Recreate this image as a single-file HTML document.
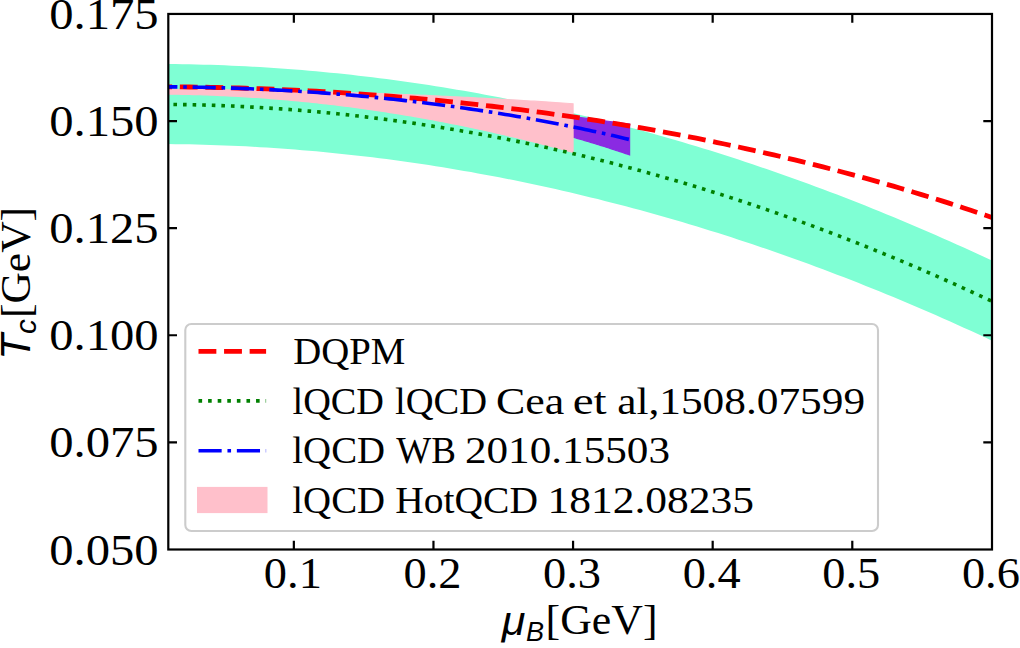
<!DOCTYPE html>
<html><head><meta charset="utf-8"><style>
html,body{margin:0;padding:0;background:#fff;}
body{width:1020px;height:648px;overflow:hidden;}
svg{display:block;}
text{font-family:"Liberation Serif",serif;fill:#000;}
</style></head><body>
<svg width="1020" height="648" viewBox="0 0 1020 648">
<defs><clipPath id="ax"><rect x="168.3" y="13.95" width="823.7" height="535.55"/></clipPath></defs>
<rect x="0" y="0" width="1020" height="648" fill="#fff"/>
<g clip-path="url(#ax)">
<path d="M154.24,63.96 L161.28,63.97 L168.32,64.02 L175.36,64.08 L182.40,64.18 L189.43,64.31 L196.47,64.46 L203.51,64.64 L210.55,64.85 L217.59,65.08 L224.63,65.35 L231.67,65.64 L238.71,65.96 L245.75,66.31 L252.79,66.68 L259.83,67.08 L266.87,67.51 L273.90,67.97 L280.94,68.46 L287.98,68.97 L295.02,69.51 L302.06,70.08 L309.10,70.68 L316.14,71.30 L323.18,71.96 L330.22,72.64 L337.26,73.35 L344.30,74.08 L351.34,74.85 L358.37,75.64 L365.41,76.46 L372.45,77.30 L379.49,78.18 L386.53,79.08 L393.57,80.01 L400.61,80.97 L407.65,81.95 L414.69,82.97 L421.73,84.01 L428.77,85.08 L435.81,86.18 L442.84,87.30 L449.88,88.45 L456.92,89.63 L463.96,90.84 L471.00,92.08 L478.04,93.34 L485.08,94.63 L492.12,95.95 L499.16,97.30 L506.20,98.67 L513.24,100.07 L520.28,101.50 L527.31,102.96 L534.35,104.45 L541.39,105.96 L548.43,107.50 L555.47,109.07 L562.51,110.67 L569.55,112.29 L576.59,113.95 L583.63,115.63 L590.67,117.33 L597.71,119.07 L604.75,120.83 L611.78,122.62 L618.82,124.44 L625.86,126.29 L632.90,128.16 L639.94,130.07 L646.98,132.00 L654.02,133.95 L661.06,135.94 L668.10,137.95 L675.14,139.99 L682.18,142.06 L689.22,144.16 L696.25,146.28 L703.29,148.44 L710.33,150.62 L717.37,152.82 L724.41,155.06 L731.45,157.32 L738.49,159.61 L745.53,161.93 L752.57,164.28 L759.61,166.65 L766.65,169.05 L773.69,171.48 L780.72,173.94 L787.76,176.43 L794.80,178.94 L801.84,181.48 L808.88,184.05 L815.92,186.65 L822.96,189.27 L830.00,191.92 L837.04,194.60 L844.08,197.31 L851.12,200.05 L858.15,202.81 L865.19,205.60 L872.23,208.42 L879.27,211.26 L886.31,214.14 L893.35,217.04 L900.39,219.97 L907.43,222.93 L914.47,225.91 L921.51,228.93 L928.55,231.97 L935.59,235.04 L942.62,238.13 L949.66,241.26 L956.70,244.41 L963.74,247.59 L970.78,250.80 L977.82,254.03 L984.86,257.29 L991.90,260.58 L991.90,340.63 L984.86,337.34 L977.82,334.07 L970.78,330.84 L963.74,327.63 L956.70,324.45 L949.66,321.30 L942.62,318.18 L935.59,315.08 L928.55,312.01 L921.51,308.97 L914.47,305.96 L907.43,302.97 L900.39,300.01 L893.35,297.08 L886.31,294.18 L879.27,291.31 L872.23,288.46 L865.19,285.64 L858.15,282.85 L851.12,280.09 L844.08,277.35 L837.04,274.65 L830.00,271.97 L822.96,269.31 L815.92,266.69 L808.88,264.09 L801.84,261.52 L794.80,258.98 L787.76,256.47 L780.72,253.99 L773.69,251.53 L766.65,249.10 L759.61,246.70 L752.57,244.32 L745.53,241.97 L738.49,239.66 L731.45,237.37 L724.41,235.10 L717.37,232.87 L710.33,230.66 L703.29,228.48 L696.25,226.33 L689.22,224.20 L682.18,222.11 L675.14,220.04 L668.10,218.00 L661.06,215.98 L654.02,214.00 L646.98,212.04 L639.94,210.11 L632.90,208.21 L625.86,206.33 L618.82,204.49 L611.78,202.67 L604.75,200.88 L597.71,199.11 L590.67,197.38 L583.63,195.67 L576.59,193.99 L569.55,192.34 L562.51,190.71 L555.47,189.12 L548.43,187.55 L541.39,186.00 L534.35,184.49 L527.31,183.01 L520.28,181.55 L513.24,180.12 L506.20,178.72 L499.16,177.34 L492.12,175.99 L485.08,174.67 L478.04,173.38 L471.00,172.12 L463.96,170.88 L456.92,169.68 L449.88,168.50 L442.84,167.34 L435.81,166.22 L428.77,165.12 L421.73,164.05 L414.69,163.01 L407.65,162.00 L400.61,161.01 L393.57,160.05 L386.53,159.12 L379.49,158.22 L372.45,157.35 L365.41,156.50 L358.37,155.68 L351.34,154.89 L344.30,154.13 L337.26,153.39 L330.22,152.68 L323.18,152.00 L316.14,151.35 L309.10,150.72 L302.06,150.13 L295.02,149.56 L287.98,149.02 L280.94,148.50 L273.90,148.02 L266.87,147.56 L259.83,147.13 L252.79,146.72 L245.75,146.35 L238.71,146.00 L231.67,145.68 L224.63,145.39 L217.59,145.13 L210.55,144.89 L203.51,144.68 L196.47,144.50 L189.43,144.35 L182.40,144.23 L175.36,144.13 L168.32,144.06 L161.28,144.02 L154.24,144.00 Z" fill="#7fffd4"/>
<path d="M573.07,116.66 L575.02,116.91 L576.97,117.16 L578.92,117.41 L580.87,117.66 L582.82,117.91 L584.77,118.16 L586.72,118.42 L588.67,118.67 L590.62,118.92 L592.57,119.18 L594.52,119.43 L596.47,119.69 L598.42,119.95 L600.37,120.20 L602.31,120.46 L604.26,120.72 L606.21,120.98 L608.16,121.24 L610.11,121.49 L612.06,121.75 L614.01,122.01 L615.96,122.28 L617.91,122.54 L619.86,122.80 L621.81,123.06 L623.76,123.32 L625.71,123.59 L627.66,123.85 L629.61,124.11 L629.61,154.97 L627.66,154.29 L625.71,153.62 L623.76,152.96 L621.81,152.30 L619.86,151.64 L617.91,150.99 L615.96,150.34 L614.01,149.70 L612.06,149.06 L610.11,148.43 L608.16,147.80 L606.21,147.17 L604.26,146.55 L602.31,145.94 L600.37,145.32 L598.42,144.72 L596.47,144.11 L594.52,143.52 L592.57,142.92 L590.62,142.33 L588.67,141.75 L586.72,141.16 L584.77,140.59 L582.82,140.01 L580.87,139.45 L578.92,138.88 L576.97,138.32 L575.02,137.76 L573.07,137.21 Z" fill="#8a2be2" stroke="#8a2be2" stroke-width="1.2"/>
<path d="M154.24,89.47 L157.76,89.47 L161.28,89.47 L164.80,89.48 L168.32,89.49 L171.84,89.50 L175.36,89.51 L178.88,89.52 L182.40,89.54 L185.92,89.55 L189.43,89.57 L192.95,89.59 L196.47,89.62 L199.99,89.64 L203.51,89.67 L207.03,89.70 L210.55,89.73 L214.07,89.76 L217.59,89.80 L221.11,89.83 L224.63,89.87 L228.15,89.91 L231.67,89.96 L235.19,90.00 L238.71,90.05 L242.23,90.10 L245.75,90.15 L249.27,90.20 L252.79,90.26 L256.31,90.32 L259.83,90.38 L263.35,90.44 L266.87,90.50 L270.39,90.57 L273.90,90.63 L277.42,90.70 L280.94,90.78 L284.46,90.85 L287.98,90.92 L291.50,91.00 L295.02,91.08 L298.54,91.16 L302.06,91.25 L305.58,91.33 L309.10,91.42 L312.62,91.51 L316.14,91.60 L319.66,91.69 L323.18,91.79 L326.70,91.89 L330.22,91.99 L333.74,92.09 L337.26,92.19 L340.78,92.30 L344.30,92.41 L347.82,92.52 L351.34,92.63 L354.86,92.74 L358.37,92.86 L361.89,92.97 L365.41,93.09 L368.93,93.22 L372.45,93.34 L375.97,93.47 L379.49,93.59 L383.01,93.72 L386.53,93.86 L390.05,93.99 L393.57,94.12 L397.09,94.26 L400.61,94.40 L404.13,94.54 L407.65,94.69 L411.17,94.83 L414.69,94.98 L418.21,95.13 L421.73,95.28 L425.25,95.44 L428.77,95.59 L432.29,95.75 L435.81,95.91 L439.32,96.07 L442.84,96.24 L446.36,96.40 L449.88,96.57 L453.40,96.74 L456.92,96.92 L460.44,97.09 L463.96,97.27 L467.48,97.44 L471.00,97.62 L474.52,97.81 L478.04,97.99 L481.56,98.18 L485.08,98.36 L488.60,98.55 L492.12,98.75 L495.64,98.94 L499.16,99.14 L502.68,99.34 L506.20,99.54 L509.72,99.74 L513.24,99.94 L516.76,100.15 L520.28,100.36 L523.79,100.57 L527.31,100.78 L530.83,100.99 L534.35,101.21 L537.87,101.43 L541.39,101.65 L544.91,101.87 L548.43,102.10 L551.95,102.32 L555.47,102.55 L558.99,102.78 L562.51,103.01 L566.03,103.25 L569.55,103.49 L573.07,103.72 L573.07,152.38 L569.55,151.40 L566.03,150.43 L562.51,149.47 L558.99,148.52 L555.47,147.58 L551.95,146.64 L548.43,145.72 L544.91,144.80 L541.39,143.89 L537.87,142.98 L534.35,142.09 L530.83,141.21 L527.31,140.33 L523.79,139.46 L520.28,138.60 L516.76,137.75 L513.24,136.90 L509.72,136.07 L506.20,135.24 L502.68,134.42 L499.16,133.61 L495.64,132.80 L492.12,132.01 L488.60,131.22 L485.08,130.44 L481.56,129.67 L478.04,128.91 L474.52,128.16 L471.00,127.41 L467.48,126.67 L463.96,125.95 L460.44,125.23 L456.92,124.51 L453.40,123.81 L449.88,123.11 L446.36,122.42 L442.84,121.74 L439.32,121.07 L435.81,120.41 L432.29,119.76 L428.77,119.11 L425.25,118.47 L421.73,117.84 L418.21,117.22 L414.69,116.60 L411.17,116.00 L407.65,115.40 L404.13,114.81 L400.61,114.23 L397.09,113.66 L393.57,113.10 L390.05,112.54 L386.53,111.99 L383.01,111.45 L379.49,110.92 L375.97,110.40 L372.45,109.88 L368.93,109.38 L365.41,108.88 L361.89,108.39 L358.37,107.91 L354.86,107.43 L351.34,106.97 L347.82,106.51 L344.30,106.06 L340.78,105.62 L337.26,105.19 L333.74,104.76 L330.22,104.35 L326.70,103.94 L323.18,103.54 L319.66,103.15 L316.14,102.77 L312.62,102.39 L309.10,102.02 L305.58,101.67 L302.06,101.32 L298.54,100.97 L295.02,100.64 L291.50,100.32 L287.98,100.00 L284.46,99.69 L280.94,99.39 L277.42,99.10 L273.90,98.81 L270.39,98.54 L266.87,98.27 L263.35,98.01 L259.83,97.76 L256.31,97.51 L252.79,97.28 L249.27,97.05 L245.75,96.83 L242.23,96.62 L238.71,96.42 L235.19,96.23 L231.67,96.04 L228.15,95.87 L224.63,95.70 L221.11,95.54 L217.59,95.39 L214.07,95.24 L210.55,95.11 L207.03,94.98 L203.51,94.86 L199.99,94.75 L196.47,94.64 L192.95,94.55 L189.43,94.46 L185.92,94.38 L182.40,94.31 L178.88,94.25 L175.36,94.20 L171.84,94.15 L168.32,94.12 L164.80,94.09 L161.28,94.07 L157.76,94.05 L154.24,94.05 Z" fill="#ffc0cb" stroke="#ffc0cb" stroke-width="1.2"/>
<path d="M154.24,86.82 L161.28,86.83 L168.32,86.85 L175.36,86.89 L182.40,86.95 L189.43,87.02 L196.47,87.11 L203.51,87.22 L210.55,87.35 L217.59,87.49 L224.63,87.65 L231.67,87.82 L238.71,88.01 L245.75,88.22 L252.79,88.44 L259.83,88.68 L266.87,88.94 L273.90,89.21 L280.94,89.51 L287.98,89.81 L295.02,90.14 L302.06,90.48 L309.10,90.84 L316.14,91.21 L323.18,91.61 L330.22,92.02 L337.26,92.44 L344.30,92.89 L351.34,93.35 L358.37,93.83 L365.41,94.32 L372.45,94.83 L379.49,95.36 L386.53,95.91 L393.57,96.47 L400.61,97.06 L407.65,97.66 L414.69,98.27 L421.73,98.91 L428.77,99.56 L435.81,100.23 L442.84,100.92 L449.88,101.63 L456.92,102.35 L463.96,103.09 L471.00,103.85 L478.04,104.63 L485.08,105.43 L492.12,106.24 L499.16,107.08 L506.20,107.93 L513.24,108.80 L520.28,109.69 L527.31,110.60 L534.35,111.52 L541.39,112.47 L548.43,113.43 L555.47,114.42 L562.51,115.42 L569.55,116.44 L576.59,117.48 L583.63,118.54 L590.67,119.62 L597.71,120.72 L604.75,121.84 L611.78,122.98 L618.82,124.14 L625.86,125.32 L632.90,126.52 L639.94,127.74 L646.98,128.98 L654.02,130.24 L661.06,131.52 L668.10,132.82 L675.14,134.15 L682.18,135.49 L689.22,136.85 L696.25,138.24 L703.29,139.65 L710.33,141.08 L717.37,142.53 L724.41,144.00 L731.45,145.49 L738.49,147.01 L745.53,148.55 L752.57,150.11 L759.61,151.69 L766.65,153.29 L773.69,154.92 L780.72,156.57 L787.76,158.24 L794.80,159.94 L801.84,161.66 L808.88,163.40 L815.92,165.17 L822.96,166.96 L830.00,168.77 L837.04,170.61 L844.08,172.47 L851.12,174.36 L858.15,176.27 L865.19,178.20 L872.23,180.16 L879.27,182.14 L886.31,184.15 L893.35,186.19 L900.39,188.25 L907.43,190.33 L914.47,192.44 L921.51,194.58 L928.55,196.75 L935.59,198.93 L942.62,201.15 L949.66,203.39 L956.70,205.66 L963.74,207.96 L970.78,210.28 L977.82,212.63 L984.86,215.01 L991.90,217.42" fill="none" stroke="#ff0000" stroke-width="4.824" stroke-dasharray="17.85 7.72"/>
<path d="M154.24,104.37 L161.28,104.38 L168.32,104.42 L175.36,104.49 L182.40,104.59 L189.43,104.71 L196.47,104.87 L203.51,105.05 L210.55,105.26 L217.59,105.49 L224.63,105.76 L231.67,106.05 L238.71,106.37 L245.75,106.72 L252.79,107.09 L259.83,107.50 L266.87,107.93 L273.90,108.39 L280.94,108.87 L287.98,109.39 L295.02,109.93 L302.06,110.50 L309.10,111.10 L316.14,111.72 L323.18,112.38 L330.22,113.06 L337.26,113.77 L344.30,114.50 L351.34,115.27 L358.37,116.06 L365.41,116.88 L372.45,117.73 L379.49,118.61 L386.53,119.51 L393.57,120.44 L400.61,121.40 L407.65,122.39 L414.69,123.40 L421.73,124.45 L428.77,125.52 L435.81,126.62 L442.84,127.74 L449.88,128.90 L456.92,130.08 L463.96,131.29 L471.00,132.53 L478.04,133.79 L485.08,135.09 L492.12,136.41 L499.16,137.76 L506.20,139.13 L513.24,140.54 L520.28,141.97 L527.31,143.43 L534.35,144.92 L541.39,146.43 L548.43,147.98 L555.47,149.55 L562.51,151.15 L569.55,152.78 L576.59,154.43 L583.63,156.11 L590.67,157.82 L597.71,159.56 L604.75,161.33 L611.78,163.12 L618.82,164.94 L625.86,166.79 L632.90,168.67 L639.94,170.58 L646.98,172.51 L654.02,174.47 L661.06,176.46 L668.10,178.48 L675.14,180.52 L682.18,182.59 L689.22,184.69 L696.25,186.82 L703.29,188.97 L710.33,191.16 L717.37,193.37 L724.41,195.61 L731.45,197.88 L738.49,200.17 L745.53,202.49 L752.57,204.84 L759.61,207.22 L766.65,209.63 L773.69,212.06 L780.72,214.52 L787.76,217.01 L794.80,219.53 L801.84,222.07 L808.88,224.65 L815.92,227.25 L822.96,229.87 L830.00,232.53 L837.04,235.21 L844.08,237.93 L851.12,240.67 L858.15,243.43 L865.19,246.23 L872.23,249.05 L879.27,251.90 L886.31,254.78 L893.35,257.69 L900.39,260.62 L907.43,263.58 L914.47,266.57 L921.51,269.59 L928.55,272.64 L935.59,275.71 L942.62,278.81 L949.66,281.94 L956.70,285.10 L963.74,288.28 L970.78,291.49 L977.82,294.74 L984.86,298.00 L991.90,301.30" fill="none" stroke="#008000" stroke-width="3.619" stroke-dasharray="3.619 5.971"/>
<path d="M154.24,86.82 L158.23,86.82 L162.22,86.83 L166.21,86.85 L170.19,86.87 L174.18,86.90 L178.17,86.94 L182.16,86.98 L186.15,87.03 L190.14,87.09 L194.13,87.16 L198.12,87.23 L202.11,87.30 L206.09,87.39 L210.08,87.48 L214.07,87.58 L218.06,87.68 L222.05,87.80 L226.04,87.92 L230.03,88.04 L234.02,88.17 L238.00,88.31 L241.99,88.46 L245.98,88.61 L249.97,88.77 L253.96,88.94 L257.95,89.11 L261.94,89.30 L265.93,89.48 L269.92,89.68 L273.90,89.88 L277.89,90.09 L281.88,90.31 L285.87,90.53 L289.86,90.76 L293.85,91.00 L297.84,91.24 L301.83,91.49 L305.82,91.75 L309.80,92.02 L313.79,92.29 L317.78,92.57 L321.77,92.86 L325.76,93.15 L329.75,93.45 L333.74,93.76 L337.73,94.08 L341.72,94.40 L345.70,94.74 L349.69,95.07 L353.68,95.42 L357.67,95.77 L361.66,96.14 L365.65,96.50 L369.64,96.88 L373.63,97.26 L377.62,97.66 L381.60,98.05 L385.59,98.46 L389.58,98.88 L393.57,99.30 L397.56,99.73 L401.55,100.17 L405.54,100.61 L409.53,101.06 L413.51,101.53 L417.50,101.99 L421.49,102.47 L425.48,102.96 L429.47,103.45 L433.46,103.95 L437.45,104.46 L441.44,104.98 L445.43,105.51 L449.41,106.04 L453.40,106.58 L457.39,107.13 L461.38,107.69 L465.37,108.26 L469.36,108.84 L473.35,109.42 L477.34,110.01 L481.33,110.61 L485.31,111.22 L489.30,111.84 L493.29,112.47 L497.28,113.11 L501.27,113.75 L505.26,114.41 L509.25,115.07 L513.24,115.74 L517.22,116.42 L521.21,117.11 L525.20,117.81 L529.19,118.52 L533.18,119.24 L537.17,119.97 L541.16,120.70 L545.15,121.45 L549.14,122.20 L553.12,122.97 L557.11,123.74 L561.10,124.52 L565.09,125.32 L569.08,126.12 L573.07,126.93 L577.06,127.76 L581.05,128.59 L585.04,129.43 L589.02,130.28 L593.01,131.15 L597.00,132.02 L600.99,132.90 L604.98,133.80 L608.97,134.70 L612.96,135.61 L616.95,136.54 L620.94,137.47 L624.92,138.42 L628.91,139.37" fill="none" stroke="#0000ff" stroke-width="3.618" stroke-dasharray="23.16 5.79 3.618 5.79"/>
</g>
<path d="M293.85,549.50 V540.80 M293.85,13.95 V22.65 M433.46,549.50 V540.80 M433.46,13.95 V22.65 M573.07,549.50 V540.80 M573.07,13.95 V22.65 M712.68,549.50 V540.80 M712.68,13.95 V22.65 M852.29,549.50 V540.80 M852.29,13.95 V22.65 M168.30,442.38 H177.00 M992.00,442.38 H983.30 M168.30,335.27 H177.00 M992.00,335.27 H983.30 M168.30,228.15 H177.00 M992.00,228.15 H983.30 M168.30,121.04 H177.00 M992.00,121.04 H983.30" stroke="#000" stroke-width="2.2" fill="none"/>
<rect x="168.3" y="13.95" width="823.70" height="535.55" fill="none" stroke="#000" stroke-width="2.2" stroke-linejoin="miter"/>
<g font-size="45">
<text x="158.7" y="564.50" text-anchor="end" textLength="109.5" lengthAdjust="spacingAndGlyphs">0.050</text>
<text x="158.7" y="457.38" text-anchor="end" textLength="109.5" lengthAdjust="spacingAndGlyphs">0.075</text>
<text x="158.7" y="350.27" text-anchor="end" textLength="109.5" lengthAdjust="spacingAndGlyphs">0.100</text>
<text x="158.7" y="243.15" text-anchor="end" textLength="109.5" lengthAdjust="spacingAndGlyphs">0.125</text>
<text x="158.7" y="136.04" text-anchor="end" textLength="109.5" lengthAdjust="spacingAndGlyphs">0.150</text>
<text x="158.7" y="28.93" text-anchor="end" textLength="109.5" lengthAdjust="spacingAndGlyphs">0.175</text>
<text x="292.85" y="587.7" text-anchor="middle" textLength="58" lengthAdjust="spacingAndGlyphs">0.1</text>
<text x="432.46" y="587.7" text-anchor="middle" textLength="58" lengthAdjust="spacingAndGlyphs">0.2</text>
<text x="572.07" y="587.7" text-anchor="middle" textLength="58" lengthAdjust="spacingAndGlyphs">0.3</text>
<text x="711.68" y="587.7" text-anchor="middle" textLength="58" lengthAdjust="spacingAndGlyphs">0.4</text>
<text x="851.29" y="587.7" text-anchor="middle" textLength="58" lengthAdjust="spacingAndGlyphs">0.5</text>
<text x="990.90" y="587.7" text-anchor="middle" textLength="58" lengthAdjust="spacingAndGlyphs">0.6</text>
</g>
<rect x="185.3" y="324" width="692.7" height="207" rx="6" fill="#fff" fill-opacity="0.8" stroke="#cccccc" stroke-width="2.1"/>
<path d="M198.5,351.35 H266.1" stroke="#ff0000" stroke-width="4.824" stroke-dasharray="17.85 7.72" fill="none"/>
<path d="M198.5,400.9 H266.1" stroke="#008000" stroke-width="3.619" stroke-dasharray="3.619 5.971" fill="none"/>
<path d="M198.5,450.75 H266.1" stroke="#0000ff" stroke-width="3.618" stroke-dasharray="23.16 5.79 3.618 5.79" fill="none"/>
<rect x="197.0" y="486.9" width="70.5" height="26.2" fill="#ffc0cb"/>
<g font-size="38">
<text transform="translate(293.18,363.60) scale(1.0209,1)" x="0" y="0">DQPM</text>
<text transform="translate(292.54,413.50) scale(1.0079,1)" x="0" y="0">lQCD</text>
<text transform="translate(394.94,413.50) scale(1.0147,1)" x="0" y="0">lQCD</text>
<text transform="translate(495.97,413.50) scale(1.1544,1)" x="0" y="0">Cea</text>
<text transform="translate(572.64,413.50) scale(1.2388,1)" x="0" y="0">et</text>
<text transform="translate(617.17,413.50) scale(1.1408,1)" x="0" y="0">al,1508.07599</text>
<text transform="translate(292.33,463.00) scale(1.0215,1)" x="0" y="0">lQCD</text>
<text transform="translate(396.30,463.00) scale(0.9755,1)" x="0" y="0">WB</text>
<text transform="translate(464.91,463.00) scale(1.1368,1)" x="0" y="0">2010.15503</text>
<text transform="translate(292.33,512.60) scale(1.0215,1)" x="0" y="0">lQCD</text>
<text transform="translate(395.26,512.60) scale(1.0404,1)" x="0" y="0">HotQCD</text>
<text transform="translate(547.48,512.60) scale(1.1448,1)" x="0" y="0">1812.08235</text>
</g>
<text transform="translate(0.90,356.00) rotate(-90) scale(1.0538,1.0436) translate(-3.50,27.50)" x="0" y="0" style="font-family:'Liberation Sans',sans-serif;font-style:italic;font-size:40px">T</text>
<text transform="translate(20.40,332.90) rotate(-90) scale(1.0588,1.0295) translate(-1.00,15.00)" x="0" y="0" style="font-family:'Liberation Sans',sans-serif;font-style:italic;font-size:28px">c</text>
<text transform="translate(29.5,314.8) rotate(-90) scale(1.0888,1.07) translate(-3.0,0)" x="0" y="0" style="font-family:'Liberation Serif',serif;font-size:40px">[GeV]</text>
<text transform="translate(500.90,613.00) scale(1.0773,1.0296) translate(0.75,21.00)" x="0" y="0" style="font-family:'Liberation Sans',sans-serif;font-style:italic;font-size:40px">μ</text>
<text transform="translate(526.90,621.10) scale(0.9672,1.0182) translate(-1.00,19.25)" x="0" y="0" style="font-family:'Liberation Sans',sans-serif;font-style:italic;font-size:28px">B</text>
<text transform="translate(548.90,634.07) scale(1.0961,1.0700) translate(-3.00,0)" x="0" y="0" style="font-family:'Liberation Serif',serif;font-style:normal;font-size:40px">[GeV]</text>
</svg>
</body></html>
